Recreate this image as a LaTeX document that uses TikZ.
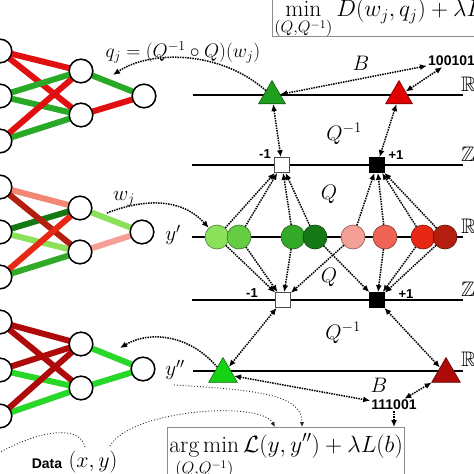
\RequirePackage{fix-cm}
\documentclass[tikz,border=0pt]{standalone}
\usepackage{amsmath,amssymb}
\usepackage{fontspec}
\newfontfamily\hv{Liberation Sans}
\usetikzlibrary{arrows.meta,shapes.geometric}
\definecolor{netR}{RGB}{225,15,15}
\definecolor{netG}{RGB}{40,170,40}
\definecolor{botR}{RGB}{175,10,10}
\definecolor{botG}{RGB}{40,215,40}
\definecolor{cA}{RGB}{140,225,90}
\definecolor{cB}{RGB}{100,205,65}
\definecolor{cC}{RGB}{50,170,40}
\definecolor{cD}{RGB}{20,120,20}
\definecolor{cE}{RGB}{245,160,150}
\definecolor{cF}{RGB}{240,100,85}
\definecolor{cG}{RGB}{230,40,20}
\definecolor{cH}{RGB}{180,30,15}
\definecolor{salm}{RGB}{242,135,115}
\definecolor{triG}{RGB}{30,160,30}
\definecolor{triR}{RGB}{225,0,0}
\definecolor{triG2}{RGB}{20,210,20}
\definecolor{triR2}{RGB}{175,10,10}
\begin{document}
\begin{tikzpicture}[x=1pt,y=-1pt,
  lbl/.style={font=\fontsize{21}{24}\selectfont, inner sep=0pt},
  nn/.style={circle,draw=black,line width=1.4pt,fill=white,minimum size=23.5pt,inner sep=0pt},
  wt/.style={line width=6pt},
  axis/.style={line width=1.6pt},
  arr/.style={densely dotted,line width=1.5pt,-{Latex[length=7pt,width=6pt]}},
  darr/.style={densely dotted,line width=1.5pt,{Latex[length=7pt,width=6pt]}-{Latex[length=7pt,width=6pt]}},
  faint/.style={dotted,line width=0.9pt,black!85,-{Latex[length=5pt,width=4.5pt]}},
  faintn/.style={dotted,line width=0.9pt,black!85},
  pt/.style={circle,minimum size=24pt,inner sep=0pt,line width=0.6pt},
  tri/.style={regular polygon,regular polygon sides=3,minimum size=31pt,inner sep=0pt,line width=0.6pt},
  sq/.style={rectangle,minimum size=15pt,inner sep=0pt,line width=0.7pt},
  bits/.style={font=\hv\bfseries\fontsize{14}{16}\selectfont,inner sep=1pt},
  sgn/.style={font=\hv\bfseries\fontsize{13}{15}\selectfont,inner sep=0pt},
  lossbox/.style={draw=black!45,line width=0.8pt,fill=white,font=\fontsize{23.5}{27}\selectfont,inner sep=2pt}
]
\clip (0,0) rectangle (474,474);
\fill[white] (0,0) rectangle (474,474);

% ---------- networks ----------
\node[nn] (ti1) at (0,51) {};
\node[nn] (ti2) at (0,96) {};
\node[nn] (ti3) at (0,141) {};
\node[nn] (th1) at (81,71) {};
\node[nn] (th2) at (81,115) {};
\node[nn] (to) at (144,96) {};
\node[nn] (mi1) at (0,187) {};
\node[nn] (mi2) at (0,232) {};
\node[nn] (mi3) at (0,277) {};
\node[nn] (mh1) at (80,208) {};
\node[nn] (mh2) at (80,252) {};
\node[nn] (mo) at (142,232) {};
\node[nn] (bi1) at (0,322) {};
\node[nn] (bi2) at (0,370) {};
\node[nn] (bi3) at (0,416) {};
\node[nn] (bh1) at (81,344) {};
\node[nn] (bh2) at (81,388) {};
\node[nn] (bo) at (143,369) {};

\draw[wt,netR] (ti1.center) -- (th1.center);
\draw[wt,netR] (ti1.center) -- (th2.center);
\draw[wt,netG] (ti2.center) -- (th1.center);
\draw[wt,netG] (ti2.center) -- (th2.center);
\draw[wt,netG] (ti3.center) -- (th2.center);
\draw[wt,netR] (ti3.center) -- (th1.center);
\draw[wt,netG] (th1.center) -- (to.center);
\draw[wt,netR] (th2.center) -- (to.center);

\draw[wt,salm] (mi1.center) -- (mh1.center);
\draw[wt,cD] (mi2.center) -- (mh1.center);
\draw[wt,cA] (mi2.center) -- (mh2.center);
\draw[wt,cC] (mi3.center) -- (mh2.center);
\draw[wt,cH] (mi1.center) -- (mh2.center);
\draw[wt,cG] (mi3.center) -- (mh1.center);
\draw[wt,cA] (mh1.center) -- (mo.center);
\draw[wt,cE] (mh2.center) -- (mo.center);

\draw[wt,botG] (bi2.center) -- (bh2.center);
\draw[wt,botG] (bi3.center) -- (bh2.center);
\draw[wt,botR] (bi1.center) -- (bh1.center);
\draw[wt,botR] (bi1.center) -- (bh2.center);
\draw[wt,botR] (bi2.center) -- (bh1.center);
\draw[wt,botR] (bi3.center) -- (bh1.center);
\draw[wt,botG] (bh1.center) -- (bo.center);
\draw[wt,botG] (bh2.center) -- (bo.center);

\foreach \n in {ti1,ti2,ti3,th1,th2,to,mi1,mi2,mi3,mh1,mh2,mo,bi1,bi2,bi3,bh1,bh2,bo}
  \node[nn] at (\n.center) {};

% ---------- axes ----------
\coordinate (a1l) at (193,95);  \coordinate (a1r) at (463,95);
\coordinate (a2l) at (192,165); \coordinate (a2r) at (463,165);
\coordinate (a3l) at (192,237); \coordinate (a3r) at (463,237);
\coordinate (a4l) at (192,300); \coordinate (a4r) at (463,300);
\coordinate (a5l) at (193,371); \coordinate (a5r) at (463,371);
\foreach \i in {1,...,5} \draw[axis] (a\i l) -- (a\i r);

\node[lbl,anchor=base west] (R1) at (461,91) {$\mathbb{R}$};
\node[lbl,anchor=base west] (Z1) at (461,161) {$\mathbb{Z}$};
\node[lbl,anchor=base west] (R2) at (461,233) {$\mathbb{R}$};
\node[lbl,anchor=base west] (Z2) at (461,296) {$\mathbb{Z}$};
\node[lbl,anchor=base west] (R3) at (461,366) {$\mathbb{R}$};

% ---------- shapes on axes ----------
\node[tri,fill=triG,draw=triG!55!black] (tg1) at (272,96) {};
\node[tri,fill=triR,draw=triR!55!black] (tr1) at (399,96) {};
\node[sq,fill=white,draw=black!70] (sw1) at (282,165) {};
\node[sq,fill=black,draw=black] (sb1) at (377,165) {};

\node[pt,fill=cA,draw=cA!55!black] (c1) at (217,237) {};
\node[pt,fill=cB,draw=cB!55!black] (c2) at (239,237) {};
\node[pt,fill=cC,draw=cC!55!black] (c3) at (293,237) {};
\node[pt,fill=cD,draw=cD!55!black] (c4) at (315,237) {};
\node[pt,fill=cE,draw=cE!55!black] (c5) at (353,237) {};
\node[pt,fill=cF,draw=cF!55!black] (c6) at (385,237) {};
\node[pt,fill=cG,draw=cG!55!black] (c7) at (423,237) {};
\node[pt,fill=cH,draw=cH!55!black] (c8) at (445,237) {};

\node[sq,fill=white,draw=black!70] (sw2) at (283,300) {};
\node[sq,fill=black,draw=black] (sb2) at (377,300) {};
\node[tri,minimum size=33pt,fill=triG2,draw=triG2!55!black] (tg2) at (223,374) {};
\node[tri,minimum size=33pt,fill=triR2,draw=triR2!55!black] (tr2) at (446,374) {};

\node[sgn] (m1a) at (265,154) {-1};
\node[sgn] (p1a) at (396,155) {+1};
\node[sgn] (m1b) at (252,293) {-1};
\node[sgn] (p1b) at (406,294) {+1};

% ---------- labels ----------
\node[lbl] (Qi1) at (344,134) {$Q^{-1}$};
\node[lbl] (Q1) at (329,194) {$Q$};
\node[lbl] (Q2) at (329,277) {$Q$};
\node[lbl] (Qi2) at (343,333) {$Q^{-1}$};
\node[lbl] (B1) at (361,63) {$B$};
\node[lbl] (B2) at (379,385) {$B$};
\node[bits,anchor=west] (bits1) at (427,61) {100101};
\node[bits] (bits2) at (394,405) {111001};

\node[lbl,font=\fontsize{19.5}{22}\selectfont] (qlab) at (183,52) {$q_j=(Q^{-1}\circ Q)(w_j)$};
\node[lbl] (wlab) at (124,199) {$w_j$};
\node[lbl] (y1) at (173,235) {$y'$};
\node[lbl] (y2) at (175,370) {$y''$};

\node[lossbox,anchor=south west,text height=26pt,text depth=18pt] (box1) at (272,37)
  {$\displaystyle\min_{(Q,Q^{-1})}D(w_j,q_j)+\lambda L(b)$};
\node[lossbox,anchor=north west,text height=23pt,text depth=30pt] (box2) at (167,427)
  {$\displaystyle\operatorname*{arg\,min}_{(Q,Q^{-1})}\mathcal{L}(y,y'')+\lambda L(b)$};

\node[font=\hv\bfseries\fontsize{14}{16}\selectfont,inner sep=0pt] (data) at (47,464) {Data};
\node[lbl,font=\fontsize{22}{25}\selectfont] (xy) at (93,462) {$(x,y)$};

% ---------- connectors ----------
\foreach \c in {c1,c2,c3,c4} \draw[arr] (\c) -- (sw1);
\foreach \c in {c5,c6,c7,c8} \draw[arr] (\c) -- (sb1);
\foreach \c in {c1,c2,c3,c5} \draw[arr] (\c) -- (sw2);
\foreach \c in {c4,c6,c7,c8} \draw[arr] (\c) -- (sb2);

\draw[darr] (tg1) -- (sw1);
\draw[darr] (tr1) -- (sb1);
\draw[darr] (sw2) -- (tg2);
\draw[darr] (sb2) -- (tr2);

\draw[darr] (tg1) -- (bits1);
\draw[darr] (tr1) -- (bits1);
\draw[darr] (tg2) -- (bits2);
\draw[darr] (tr2) -- (bits2);
\draw[arr] (bits2) -- (bits2 |- box2.north);

\coordinate (wq) at (113,75);
\coordinate (ww) at (107,213);
\coordinate (wy) at (120,348);
\draw[arr] (tg1) .. controls (220,50) and (150,50) .. (wq);
\draw[arr] (ww) .. controls (140,200) and (180,196) .. (c1);
\draw[arr] (tg2) .. controls (190,335) and (150,330) .. (wy);

\coordinate (ypp) at (174,385);
\coordinate (bA) at (275,427);
\coordinate (bB) at (302,427);
\coordinate (xyA) at (85,447);
\coordinate (xyB) at (110,446);
\coordinate (xl) at (-10,458);
\draw[faint] (ypp) .. controls (260,390) and (302,395) .. (bB);
\draw[faint] (xyB) .. controls (130,410) and (260,400) .. (bA);
\draw[faintn] (xyA) .. controls (80,425) and (40,428) .. (xl);
\end{tikzpicture}
\end{document}
